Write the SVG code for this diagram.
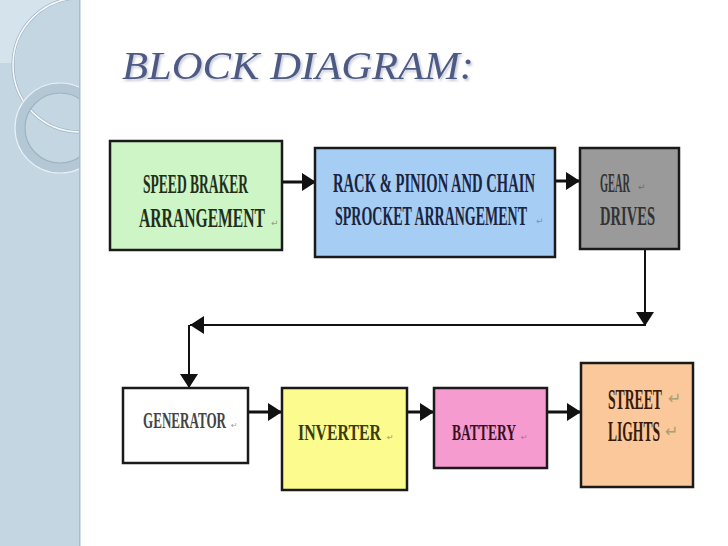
<svg xmlns="http://www.w3.org/2000/svg" width="728" height="546" viewBox="0 0 728 546">
  <defs>
    <marker id="ah" markerUnits="userSpaceOnUse" markerWidth="15" markerHeight="18" refX="14" refY="9" orient="auto">
      <path d="M0,0 L14,9 L0,18 z" fill="#111"/>
    </marker>
    <clipPath id="panel"><rect x="0" y="0" width="80" height="546"/></clipPath>
    <filter id="tshadow" x="-5%" y="-20%" width="110%" height="150%">
      <feDropShadow dx="1.5" dy="2" stdDeviation="1.2" flood-color="#8a93aa" flood-opacity="0.5"/>
    </filter>
  </defs>
  <style>
    .box { stroke: #1a1a1a; stroke-width: 2.5; }
    .lbl { font-family: "Liberation Serif", "Times New Roman", serif; font-weight: bold; }
    .pm { font-family: "DejaVu Sans", sans-serif; font-weight: normal; }
    .thick { stroke: #111; stroke-width: 3; fill: none; }
    .thin { stroke: #111; stroke-width: 2; fill: none; }
  </style>

  <rect x="0" y="0" width="728" height="546" fill="#ffffff"/>

  <g id="side-panel">
    <rect x="0" y="0" width="80" height="546" fill="#c3d6e2"/>
    <g clip-path="url(#panel)">
      <path d="M0,0 H63 A67,67 0 0 0 15,63 H0 Z" fill="#d4e3ec"/>
      <circle cx="80" cy="65" r="67" fill="none" stroke="#9fb3c2" stroke-width="3"/>
      <circle cx="80" cy="65" r="67" fill="none" stroke="#f4f8fb" stroke-width="1.6"/>
      <circle cx="60" cy="128" r="40" fill="none" stroke="#b3c7d4" stroke-width="10"/>
      <circle cx="60" cy="128" r="45" fill="none" stroke="#e8f0f5" stroke-width="1.2"/>
      <circle cx="60" cy="128" r="35" fill="none" stroke="#9fb2c1" stroke-width="1.2"/>
    </g>
    <rect x="79" y="0" width="1.5" height="546" fill="#a9bccb"/>
  </g>

  <g id="title">
    <text x="122" y="79" font-family="Liberation Serif, Times New Roman, serif" font-style="italic" font-size="41" fill="#4e5a84" textLength="352" lengthAdjust="spacingAndGlyphs" filter="url(#tshadow)">BLOCK DIAGRAM:</text>
  </g>

  <g id="connectors">
    <path class="thick" d="M282,182 H316" marker-end="url(#ah)"/>
    <path class="thick" d="M554,181 H580" marker-end="url(#ah)"/>
    <path class="thin" d="M645,249 V326" marker-end="url(#ah)"/>
    <path class="thin" d="M645,325 H190" marker-end="url(#ah)"/>
    <path class="thin" d="M189,325 V388" marker-end="url(#ah)"/>
    <path class="thick" d="M248,412 H282" marker-end="url(#ah)"/>
    <path class="thick" d="M408,412 H434" marker-end="url(#ah)"/>
    <path class="thick" d="M547,412 H581" marker-end="url(#ah)"/>
  </g>

  <g id="speed-braker">
    <rect class="box" x="110" y="141" width="172" height="109" fill="#cdf5c6"/>
    <text class="lbl" x="143" y="193" font-size="27" fill="#1f2f1a" textLength="105" lengthAdjust="spacingAndGlyphs">SPEED BRAKER</text>
    <text class="lbl" font-size="27" fill="#1f2f1a"><tspan x="139" y="227" textLength="126" lengthAdjust="spacingAndGlyphs">ARRANGEMENT</tspan><tspan class="pm" x="271" y="226" font-size="9" fill="#8aa08a">↵</tspan></text>
  </g>

  <g id="rack-pinion">
    <rect class="box" x="315" y="148" width="240" height="109" fill="#a6cdf4"/>
    <text class="lbl" x="333" y="192" font-size="27" fill="#1a2440" textLength="202" lengthAdjust="spacingAndGlyphs">RACK &amp; PINION AND CHAIN</text>
    <text class="lbl" font-size="27" fill="#1a2440"><tspan x="335" y="225" textLength="192" lengthAdjust="spacingAndGlyphs">SPROCKET ARRANGEMENT</tspan><tspan class="pm" x="536" y="224" font-size="9" fill="#7f93b0">↵</tspan></text>
  </g>

  <g id="gear-drives">
    <rect class="box" x="580" y="148" width="99" height="101" fill="#9a9a9a"/>
    <text class="lbl" font-size="27" fill="#333333"><tspan x="600" y="192" textLength="30" lengthAdjust="spacingAndGlyphs">GEAR</tspan><tspan class="pm" x="638" y="190" font-size="9" fill="#6e6e6e">↵</tspan></text>
    <text class="lbl" x="600" y="225" font-size="27" fill="#333333" textLength="55" lengthAdjust="spacingAndGlyphs">DRIVES</text>
  </g>

  <g id="generator">
    <rect class="box" x="123" y="388" width="125" height="75" fill="#ffffff"/>
    <text class="lbl" font-size="23" fill="#444444"><tspan x="143" y="428" textLength="83" lengthAdjust="spacingAndGlyphs">GENERATOR</tspan><tspan class="pm" x="231" y="428" font-size="8" fill="#9a9a9a">↵</tspan></text>
  </g>

  <g id="inverter">
    <rect class="box" x="282" y="388" width="125" height="102" fill="#fbfb8e"/>
    <text class="lbl" font-size="23" fill="#3a3a10"><tspan x="298" y="440" textLength="83" lengthAdjust="spacingAndGlyphs">INVERTER</tspan><tspan class="pm" x="387" y="440" font-size="8" fill="#a0a060">↵</tspan></text>
  </g>

  <g id="battery">
    <rect class="box" x="434" y="388" width="113" height="80" fill="#f59bd0"/>
    <text class="lbl" font-size="23" fill="#3a1020"><tspan x="452" y="440" textLength="64" lengthAdjust="spacingAndGlyphs">BATTERY</tspan><tspan class="pm" x="521" y="440" font-size="8" fill="#b07090">↵</tspan></text>
  </g>

  <g id="street-lights">
    <rect class="box" x="581" y="363" width="112" height="124" fill="#fac89a"/>
    <text class="lbl" font-size="29" fill="#3a1a0a"><tspan x="608" y="409" textLength="54" lengthAdjust="spacingAndGlyphs">STREET</tspan><tspan class="pm" x="668" y="404" font-size="16" fill="#a8a070">↵</tspan></text>
    <text class="lbl" font-size="29" fill="#3a1a0a"><tspan x="608" y="441" textLength="52" lengthAdjust="spacingAndGlyphs">LIGHTS</tspan><tspan class="pm" x="665" y="437" font-size="16" fill="#a8a070">↵</tspan></text>
  </g>
</svg>
